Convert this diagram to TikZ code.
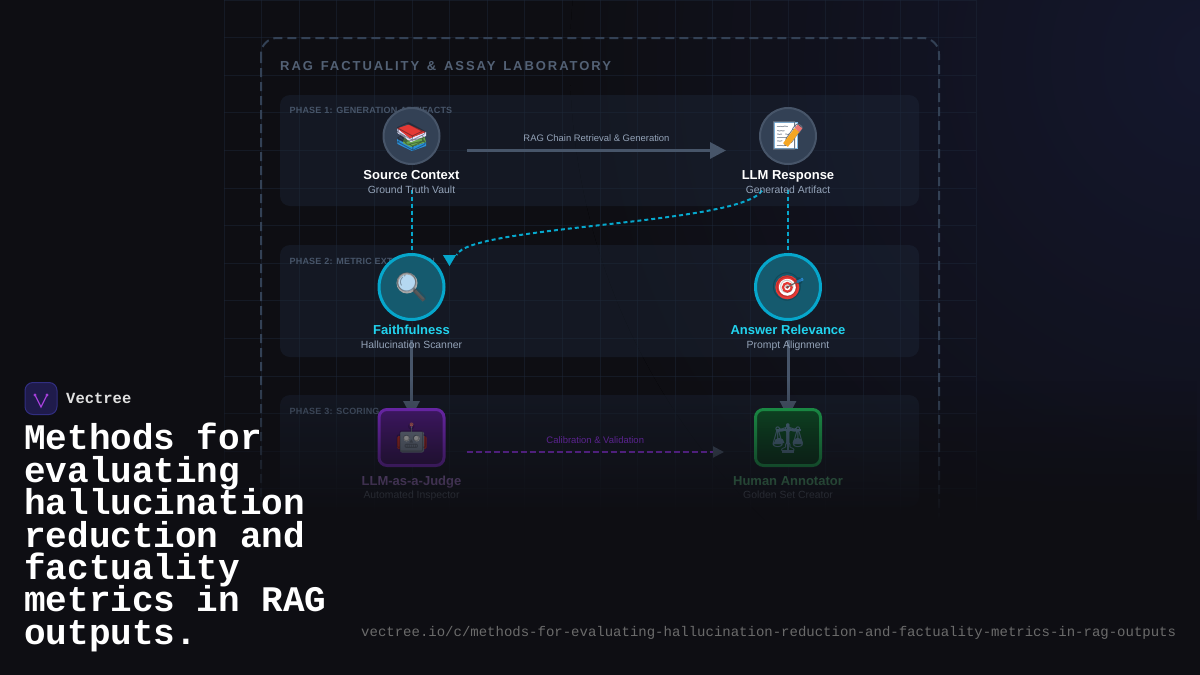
\documentclass[tikz,border=0pt]{standalone}
\usepackage{fontspec}
\usetikzlibrary{arrows.meta,fadings,positioning}
\setmainfont{Liberation Sans}
\setmonofont{Liberation Mono}
\newfontfamily\trackfont[LetterSpace=15,WordSpace=1.4]{Liberation Sans}
\newfontfamily\phasefont[LetterSpace=2,WordSpace=1.1]{Liberation Sans}
\newfontfamily\emojifont{Noto Emoji}
\setlength{\normallineskiplimit}{-100pt}
\setlength{\lineskiplimit}{-100pt}
\definecolor{bgdark}{HTML}{0E0E13}
\definecolor{bgglow}{HTML}{14172D}
\definecolor{gridline}{HTML}{1E293B}
\definecolor{framedash}{HTML}{334155}
\definecolor{panelfill}{HTML}{1E293B}
\definecolor{slateedge}{HTML}{475569}
\definecolor{flowcyan}{HTML}{06A7CC}
\definecolor{metricfill}{HTML}{155A6E}
\definecolor{metricname}{HTML}{22D3EE}
\definecolor{subgrey}{HTML}{94A3B8}
\definecolor{scalegrey}{HTML}{4F7086}
\definecolor{judgepurple}{HTML}{9333EA}
\definecolor{annotgreen}{HTML}{22C55E}
\definecolor{logofill}{HTML}{1F1B4B}
\definecolor{logoedge}{HTML}{312E81}
\definecolor{logomark}{HTML}{A23FD8}
\definecolor{inkred}{HTML}{E53935}
\definecolor{inkblue}{HTML}{2A8FD8}
\definecolor{inkgreen}{HTML}{6AA84F}
\definecolor{inkyellow}{HTML}{F5A623}
\pgfdeclarelayer{back}
\pgfdeclarelayer{edges}
\pgfdeclarelayer{front}
\pgfsetlayers{back,edges,main,front}
\tikzfading[name=fade diagram,top color=transparent!100,bottom color=transparent!0]
\begin{document}
\begin{tikzpicture}[x=1pt,y=-1pt,
    panel/.style={draw=none,fill=panelfill,fill opacity=0.4,rounded corners=10pt},
    phase text/.style={text=slateedge,font=\phasefont\fontsize{9}{11}\selectfont\bfseries,anchor=west,inner sep=0},
    doc node/.style={circle,draw=slateedge,line width=2pt,fill=framedash,minimum size=56pt,inner sep=0},
    metric node/.style={circle,draw=flowcyan,line width=3pt,fill=metricfill,minimum size=65pt,inner sep=0},
    judge node/.style={rectangle,rounded corners=8pt,draw=judgepurple!85!black,line width=3pt,top color=judgepurple!50!black,bottom color=judgepurple!40!black,minimum width=65pt,minimum height=56pt,inner sep=0},
    annot node/.style={rectangle,rounded corners=8pt,draw=annotgreen!85!black,line width=3pt,top color=annotgreen!40!black,bottom color=annotgreen!30!black,minimum width=65pt,minimum height=56pt,inner sep=0},
    emoji/.style={font=\emojifont\fontsize{28}{30}\selectfont,inner sep=0},
    name text/.style={font=\fontsize{13}{15}\selectfont\bfseries,inner sep=0,anchor=base},
    sub text/.style={text=subgrey,font=\fontsize{10.4}{12}\selectfont,inner sep=0,anchor=base},
    edge text/.style={font=\fontsize{9.45}{11}\selectfont,inner sep=0},
    flow/.style={draw=slateedge,line width=3pt},
    flow tip/.style={-{Triangle[length=16pt,width=16pt,color=slateedge]}},
    dotted flow/.style={draw=flowcyan,line width=2pt,dash pattern=on 4pt off 3pt} ]
    \useasboundingbox (0,0) rectangle (1200,675);

    % backdrop
    \begin{pgfonlayer}{back}
    \fill [bgdark] (0,0) rectangle (1200,675);
    \begin{scope}
    \clip (0,0) rectangle (1200,675);
    \fill [inner color=bgglow,outer color=bgdark] (1210,60) circle (640);
    \end{scope}
    \foreach \gx in {0,...,20}
        \draw [gridline,opacity=0.45,line width=1pt] (224+37.6*\gx,0) -- (224+37.6*\gx,530);
    \foreach \gy in {0,...,14}
        \draw [gridline,opacity=0.45,line width=1pt] (224,37.6*\gy) -- (976,37.6*\gy);
    \draw [framedash,line width=2pt,dash pattern=on 9pt off 5pt,rounded corners=16pt] (261,38) rectangle (939,530);
    \node at (280,66.5) [anchor=west,inner sep=0,text=slateedge!85!subgrey,font=\trackfont\fontsize{13}{15}\selectfont\bfseries] (labtitle) {RAG FACTUALITY \& ASSAY LABORATORY};
    \fill [panel] (280,95) rectangle (919,206);
    \fill [panel] (280,245) rectangle (919,357);
    \fill [panel] (280,395) rectangle (919,507);
    \node at (289.5,110) [phase text] (phaseone) {PHASE 1: GENERATION ARTIFACTS};
    \node at (289.5,261) [phase text] (phasetwo) {PHASE 2: METRIC EXTRACTION};
    \node at (289.5,411) [phase text] (phasethree) {PHASE 3: SCORING};
    \end{pgfonlayer}

    % row 1
    \node at (411.5,136) [doc node] (source) {};
    \fill [inkblue] (397,139) -- (397.5,144) -- (412,151) -- (426,146) -- (426,142) -- (412,147) -- cycle;
    \fill [inkgreen] (404,137) -- (424,135) -- (426,142) -- (411,147) -- (403,143) -- cycle;
    \fill [white!90!blue] (397.3,128.3) -- (397.5,133) -- (411,142) -- (426,136) -- (426,132) -- (410,138.3) -- cycle;
    \fill [inkred] (397.3,128.3) -- (409,124.5) -- (425.7,132) -- (410,138.3) -- cycle;
    \node at ([yshift=-1pt]source.center) [emoji,text=black!65!framedash,opacity=0.45] (sourceicon) {\char"1F4DA};
    \node at (411.5,179) [name text,text=white] (sourcename) {Source Context};
    \node at (411.5,193.3) [sub text] (sourcesub) {Ground Truth Vault};
    \node at (788,136) [doc node] (response) {};
    \fill [white,draw=inkblue!60!white,line width=1pt] (774.3,122.3) rectangle (797.7,148.3);
    \node at (response) [emoji,text=subgrey!70!black] (responseicon) {\char"1F4DD};
    \draw [inkyellow,line width=6pt] (785.5,145) -- (797,130);
    \draw [inkred!70!white,line width=6pt] (797,130) -- (800,126.5);
    \node at (788,179) [name text,text=white] (responsename) {LLM Response};
    \node at (788,193.3) [sub text] (responsesub) {Generated Artifact};

    % row 2
    \node at (411.5,287) [metric node] (faith) {};
    \fill [inkblue!35!white,draw=white!65!black,line width=2pt] (407,283) circle (9.5);
    \draw [white!35!black,line width=3.5pt] (414,290) -- (424,300.5);
    \node at (faith) [emoji,text=black!60!subgrey,opacity=0.5] (faithicon) {\char"1F50D};
    \node at (411.5,334.4) [name text,text=metricname] (faithname) {Faithfulness};
    \node at (411.5,348) [sub text] (faithsub) {Hallucination Scanner};
    \node at (788,287) [metric node] (relevance) {};
    \fill [inkred] (787.3,287.3) circle (12);
    \fill [white] (787.3,287.3) circle (8.5);
    \fill [inkred] (787.3,287.3) circle (5.5);
    \fill [white] (787.3,287.3) circle (3);
    \fill [inkred] (787.3,287.3) circle (1.5);
    \draw [white!45!black,line width=1pt] (787.3,287.3) -- (799,281);
    \draw [inkblue,line width=2.5pt] (797,282) -- (803,279);
    \node at (relevance) [emoji,text=black,opacity=0.2] (relevanceicon) {\char"1F3AF};
    \node at (788,334.4) [name text,text=metricname] (relevancename) {Answer Relevance};
    \node at (788,348) [sub text] (relevancesub) {Prompt Alignment};

    % row 3
    \node at (411.5,437.5) [judge node] (judge) {};
    \fill [inkred!75!black,rounded corners=1.5pt] (397,436) rectangle (426.5,449);
    \fill [subgrey!75!black,rounded corners=2pt] (400,431.5) rectangle (424,452.5);
    \draw [subgrey!75!black,line width=1pt] (411.5,431.5) -- (411.5,425);
    \fill [inkred!60!subgrey] (411.5,424.5) circle (2);
    \fill [white!80!black] (406.5,438.5) circle (3);
    \fill [white!80!black] (416.8,438.5) circle (3);
    \node at (judge) [emoji,text=black,opacity=0.25] (judgeicon) {\char"1F916};
    \node at (411.5,485) [name text,text=judgepurple!55!white] (judgename) {LLM-as-a-Judge};
    \node at (411.5,498.7) [sub text] (judgesub) {Automated Inspector};
    \node at (788,437.5) [annot node] (annot) {};
    \draw [scalegrey,line width=2pt] (776,429.5) -- (800.5,429.5);
    \draw [scalegrey,line width=2.5pt] (788,424) -- (788,450);
    \draw [scalegrey,line width=3pt] (782,451.5) -- (794,451.5);
    \fill [scalegrey] (774,443) arc [start angle=180,end angle=360,radius=5.2] -- cycle;
    \fill [scalegrey] (792.5,443) arc [start angle=180,end angle=360,radius=5.2] -- cycle;
    \node at (annot) [emoji,text=scalegrey] (annoticon) {\char"2696};
    \node at (788,485) [name text,text=annotgreen!70!white] (annotname) {Human Annotator};
    \node at (788,498.7) [sub text] (annotsub) {Golden Set Creator};

    \begin{pgfonlayer}{edges}
    \draw [flow,flow tip] ([xshift=26.5pt,yshift=-14.5pt]source.east) -- node [edge text,text=subgrey,above=7.5pt] (ragtext) {RAG Chain Retrieval \& Generation} ([xshift=-33pt,yshift=-14.5pt]response.west);
    \draw [dotted flow] (sourcesub.center) -- (faith.north);
    \draw [dotted flow] (responsesub.center) -- (relevance.north);
    \coordinate (curvetip) at (449.5,266);
    \draw [dotted flow] ([xshift=-26pt,yshift=-1pt]responsesub.center) .. controls (740,225) and (470,225) .. ([xshift=7pt,yshift=11pt]curvetip);
    \draw [draw=flowcyan,-{Triangle[length=11pt,width=13pt]}] ([yshift=11pt]curvetip) -- (curvetip);
    \draw [flow,flow tip] (faithsub.north) -- ([yshift=-9pt]judge.north);
    \draw [flow,flow tip] (relevancesub.north) -- ([yshift=-9pt]annot.north);
    \draw [draw=judgepurple,line width=2pt,dash pattern=on 6pt off 3pt,-{Triangle[length=11pt,width=11pt,color=slateedge]}] ([xshift=21pt,yshift=-14.5pt]judge.east) -- node [edge text,text=judgepurple,above=7pt] (caltext) {Calibration \& Validation} ([xshift=-30pt,yshift=-14.5pt]annot.west);
    \end{pgfonlayer}

    \begin{pgfonlayer}{front}
    \fill [bgdark,path fading=fade diagram] (0,380) rectangle (1200,520);
    \fill [bgdark] (0,520) rectangle (1200,675);

    % brand and heading
    \node at (41,398.5) [rectangle,rounded corners=8pt,draw=logoedge,line width=1pt,fill=logofill,minimum size=32pt,inner sep=0] (logo) {};
    \draw [logomark,line width=1.3pt] ([shift={(-6,-3.5)}]logo.center) -- ++(6,12) -- ++(6,-12);
    \fill [logomark] ([shift={(-6,-3.5)}]logo.center) circle (1.7) ([shift={(6,-3.5)}]logo.center) circle (1.7);
    \node [right=8.5pt of logo.east,inner sep=0,text=white!88!black,font=\ttfamily\fontsize{15.5}{17}\selectfont\bfseries] (brand) {Vectree};
    \node at (24,537.5) [anchor=west,inner sep=0,align=left,text=white,font=\ttfamily\fontsize{36}{32.4}\selectfont\bfseries] (headline) {Methods for\\evaluating\\hallucination\\reduction and\\factuality\\metrics in RAG\\outputs.};
    \node at (361,633) [anchor=west,inner sep=0,text=white!42!black,font=\ttfamily\fontsize{14}{16}\selectfont] (urltext) {vectree.io/c/methods-for-evaluating-hallucination-reduction-and-factuality-metrics-in-rag-outputs};
    \end{pgfonlayer}
    \end{tikzpicture}
\end{document}
